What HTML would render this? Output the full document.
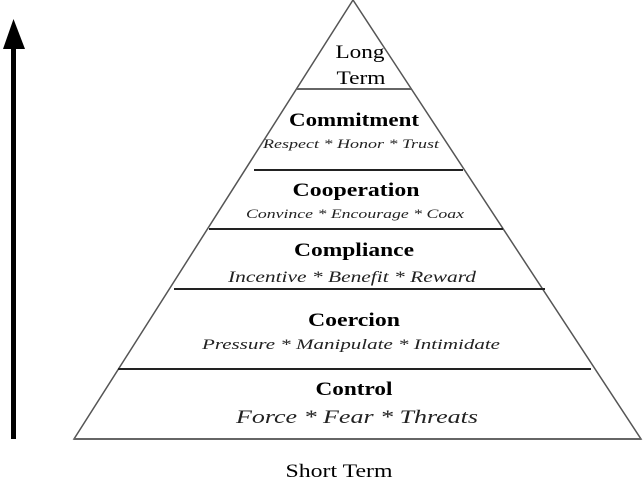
<!DOCTYPE html>
<html><head><style>
html,body{margin:0;padding:0;background:#fff;}
svg{display:block;}
text{font-family:"Liberation Serif",serif;fill:#000;text-anchor:middle;}
.b{font-weight:bold;font-size:19px;}
.i{font-style:italic;fill:#222;}
</style></head><body>
<svg width="644" height="479" viewBox="0 0 644 479">
<polygon points="353,0 74,439 641,439" fill="#fff" stroke="#555" stroke-width="1.5"/>
<g stroke="#222" stroke-width="2">
<line x1="297" y1="89" x2="411" y2="89" stroke="#666"/>
<line x1="254" y1="170" x2="463" y2="170"/>
<line x1="209" y1="229" x2="503" y2="229"/>
<line x1="174" y1="289" x2="545" y2="289"/>
<line x1="118" y1="369" x2="591" y2="369"/>
<line x1="74" y1="439" x2="641" y2="439" stroke="#666"/>
</g>
<rect x="11" y="44" width="5" height="395" fill="#000"/>
<polygon points="13.5,19 3,49 25,49" fill="#000"/>
<text x="360" y="58" font-size="19" textLength="49" lengthAdjust="spacingAndGlyphs">Long</text>
<text x="361" y="84" font-size="19" textLength="49" lengthAdjust="spacingAndGlyphs">Term</text>
<text x="354" y="126" class="b" textLength="130" lengthAdjust="spacingAndGlyphs">Commitment</text>
<text x="351" y="148" class="i" font-size="13" textLength="176" lengthAdjust="spacingAndGlyphs">Respect * Honor  * Trust</text>
<text x="356" y="196" class="b" textLength="127" lengthAdjust="spacingAndGlyphs">Cooperation</text>
<text x="355" y="218" class="i" font-size="13" textLength="218" lengthAdjust="spacingAndGlyphs">Convince * Encourage * Coax</text>
<text x="354" y="256" class="b" textLength="120" lengthAdjust="spacingAndGlyphs">Compliance</text>
<text x="352" y="282" class="i" font-size="16" textLength="248" lengthAdjust="spacingAndGlyphs">Incentive * Benefit  * Reward</text>
<text x="354" y="326" class="b" textLength="92" lengthAdjust="spacingAndGlyphs">Coercion</text>
<text x="351" y="349" class="i" font-size="15" textLength="298" lengthAdjust="spacingAndGlyphs">Pressure * Manipulate  * Intimidate</text>
<text x="354" y="395" class="b" textLength="77" lengthAdjust="spacingAndGlyphs">Control</text>
<text x="357" y="423" class="i" font-size="19" textLength="242" lengthAdjust="spacingAndGlyphs">Force *  Fear  * Threats</text>
<text x="339" y="477" font-size="19" textLength="107" lengthAdjust="spacingAndGlyphs">Short Term</text>
</svg>
</body></html>
